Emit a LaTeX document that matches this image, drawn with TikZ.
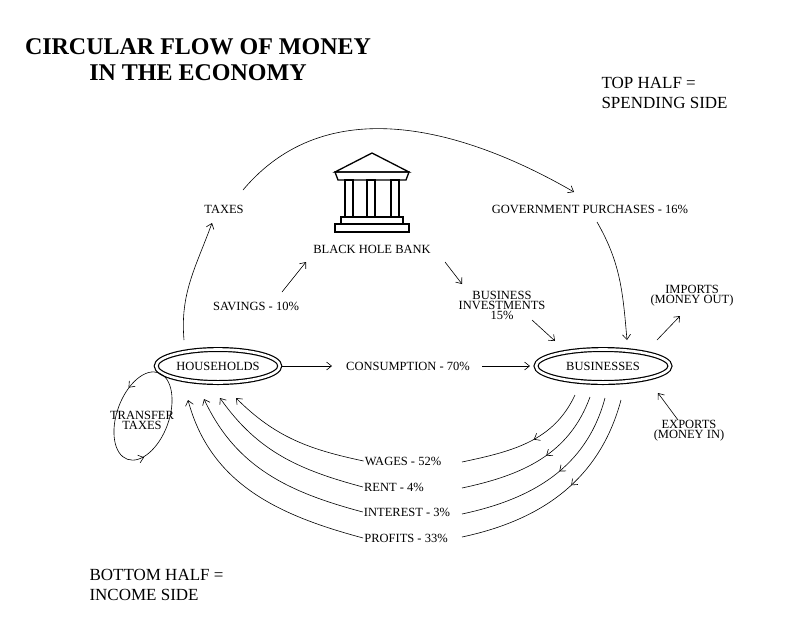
\documentclass[tikz,border=0pt]{standalone}
\usepackage{fontspec}
\setmainfont{Liberation Serif}
\usetikzlibrary{shapes.geometric,arrows.meta,decorations.markings,positioning}
\begin{document}
\begin{tikzpicture}[x=1pt, y=-1pt, >={Straight Barb[length=5pt,width=8pt]},
	lbl/.style={font=\fontsize{12.5}{11}\selectfont, align=center, inner sep=1pt},
	sector/.style={draw, ellipse, double, double distance=2.6pt, line width=1.2pt, minimum height=33, inner xsep=2pt, font=\fontsize{12.5}{11}\selectfont},
	flow/.style={->, line width=0.6pt},
	midflow/.style={line width=0.6pt, postaction={decorate}, decoration={markings, mark=at position 0.45 with {\arrow{>}}}}
	]
	\useasboundingbox (0,0) rectangle (788,630);

	% Titles
	\node[font=\fontsize{24}{26}\selectfont\bfseries, align=center] (title) at (198,60) {CIRCULAR FLOW OF MONEY\\IN THE ECONOMY};
	\node[font=\fontsize{17}{20}\selectfont, align=left, anchor=west] (top) at (598,93) {TOP HALF =\\SPENDING SIDE};
	\node[font=\fontsize{17}{20}\selectfont, align=left, anchor=west] (bottom) at (86,585) {BOTTOM HALF =\\INCOME SIDE};

	% Sectors
	\node[sector, minimum width=122] (hh) at (218,366) {HOUSEHOLDS};
	\node[sector, minimum width=134] (bus) at (603,366) {BUSINESSES};

	% Labels
	\node[lbl] (cons) at (408,366) {CONSUMPTION - 70\%};
	\node[lbl] (tax) at (224,209) {TAXES};
	\node[lbl] (gov) at (590,209) {GOVERNMENT PURCHASES - 16\%};
	\node[lbl] (bank) at (372,249) {BLACK HOLE BANK};
	\node[lbl] (sav) at (256,306) {SAVINGS - 10\%};
	\node[lbl, font=\fontsize{12.5}{10}\selectfont] (inv) at (502,305) {BUSINESS\\INVESTMENTS\\15\%};
	\node[lbl, font=\fontsize{12.5}{10}\selectfont] (imp) at (692,296) {IMPORTS\\(MONEY OUT)};
	\node[lbl, font=\fontsize{12.5}{10}\selectfont] (exp) at (689,431) {EXPORTS\\(MONEY IN)};
	\node[lbl, font=\fontsize{12.5}{10}\selectfont] (trans) at (142,420) {TRANSFER\\TAXES};
	\node[lbl] (wage) at (403,461) {WAGES - 52\%};
	\node[lbl] (rent) at (394,487) {RENT - 4\%};
	\node[lbl] (int) at (407,512) {INTEREST - 3\%};
	\node[lbl] (prof) at (406,538) {PROFITS - 33\%};

	% Bank icon
	\begin{scope}[line width=1.3pt]
		\draw (335,172) -- (372,153) -- (409,172) -- cycle;
		\draw (335,172) -- (409,172) -- (406,180) -- (338,180) -- cycle;
		\foreach \c in {349,371,395}
			\draw (\c-4,180) rectangle (\c+4,217);
		\draw (341,217) rectangle (403,224);
		\draw (335,224) rectangle (409,232);
	\end{scope}

	% Spending side
	\coordinate (tax-in) at (212,223);
	\draw[flow] (184,340) to[out=95,in=-110] (tax-in);
	\draw[flow] (243,190) to[out=50,in=150] (574,192);
	\draw[flow] (597,222) to[out=-60,in=95] (627,340);
	\draw[flow] (282,292) -- (306,262);
	\draw[flow] (445,262) -- (462,284);
	\draw[flow] (532,320) -- (555,341);
	\draw[flow] (657,340) -- (680,316);
	\draw[flow] (678,420) -- (658,393);
	\draw[flow] (282,366) -- (332,366);
	\draw[flow] (482,366) -- (530,366);

	% Transfer taxes loop
	\draw[line width=0.6pt, postaction={decorate}, decoration={markings,
		mark=at position 0.2 with {\arrow{<}}, mark=at position 0.62 with {\arrow{<}}}]
		(143,416) ellipse[x radius=26, y radius=46, rotate=-20];

	% Income side
	\coordinate (w-in) at (236,398);
	\coordinate (r-in) at (220,398);
	\coordinate (i-in) at (204,399);
	\coordinate (p-in) at (188,400);
	\draw[flow] (wage.west) to[out=168,in=-45] (w-in);
	\draw[flow] (rent.west) to[out=165,in=-55] (r-in);
	\draw[flow] (int.west) to[out=165,in=-65] (i-in);
	\draw[flow] (prof.west) to[out=165,in=-75] (p-in);
	\draw[midflow] (575,395) to[out=-115,in=12] (462,462);
	\draw[midflow] (590,397) to[out=-110,in=12] (462,488);
	\draw[midflow] (605,398) to[out=-105,in=12] (462,514);
	\draw[midflow] (621,400) to[out=-105,in=12] (462,537);
\end{tikzpicture}
\end{document}
